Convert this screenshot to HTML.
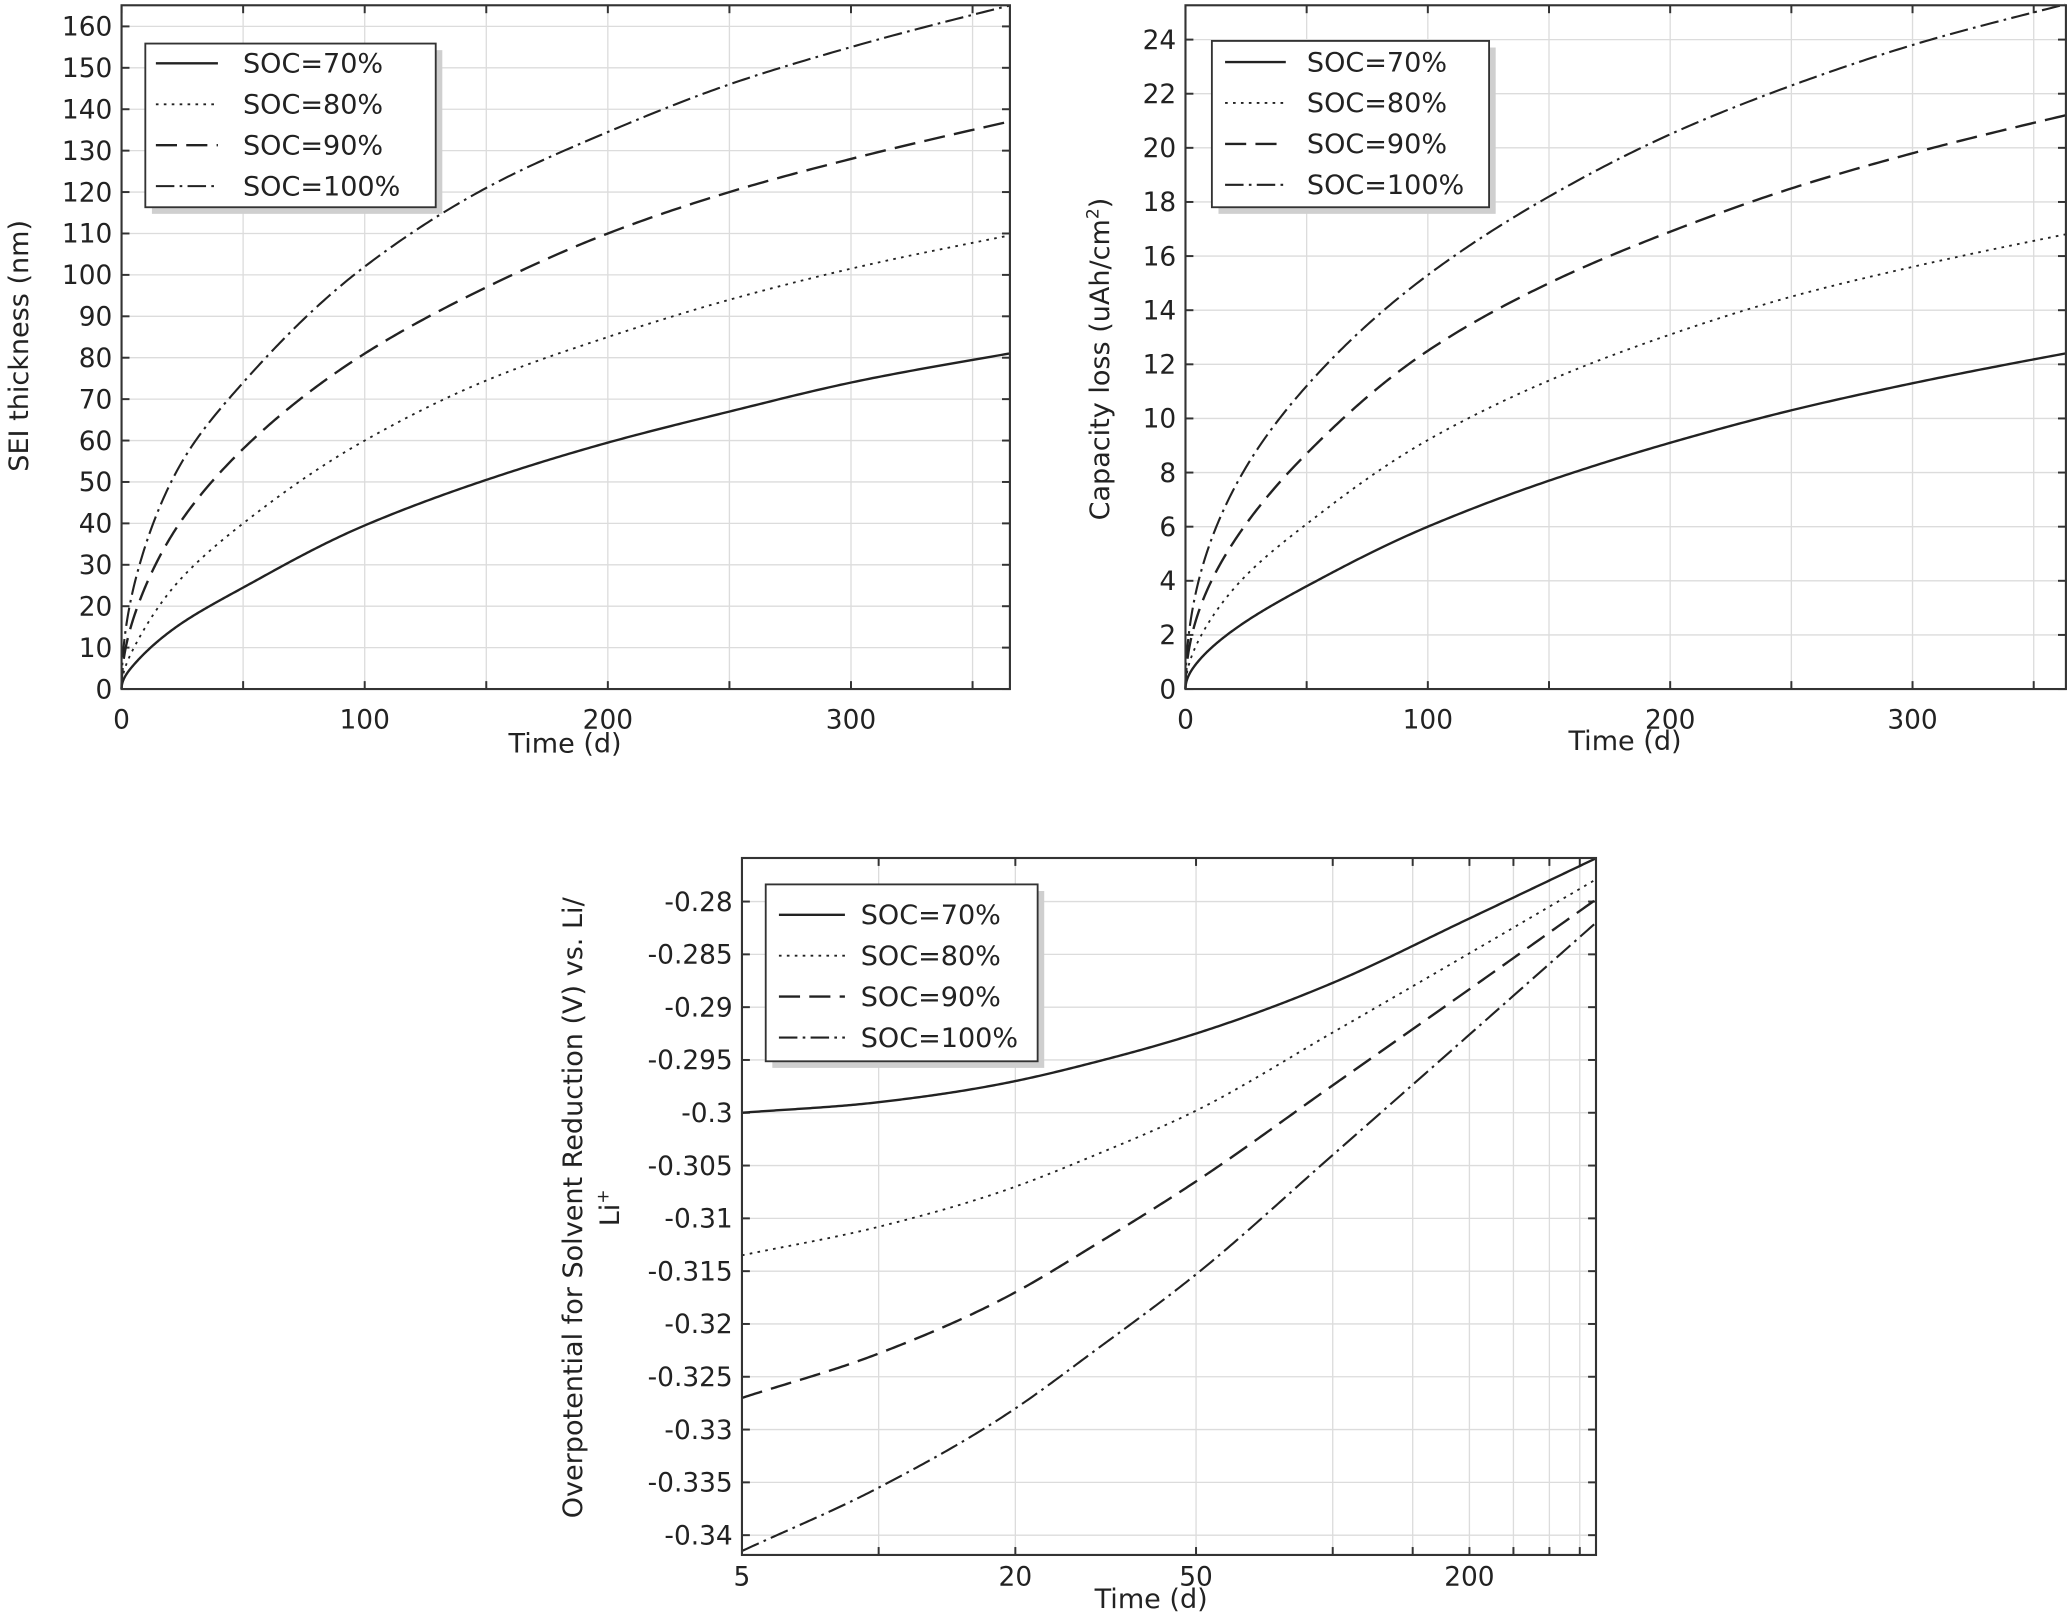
<!DOCTYPE html>
<html><head><meta charset="utf-8"><style>
html,body{margin:0;padding:0;background:#fff;}
svg{display:block}
text{font-family:"DejaVu Sans","Liberation Sans",sans-serif;fill:#222;}
</style></head><body>
<svg id="s" xmlns="http://www.w3.org/2000/svg" width="2070" height="1617" viewBox="0 0 1568 1225">
<rect width="1568" height="1225" fill="#fff"/>
<g id="g"></g>
</svg>
<script>
var NS="http://www.w3.org/2000/svg",G=document.getElementById('g');
function el(t,a,txt){var e=document.createElementNS(NS,t);for(var k in a)e.setAttribute(k,a[k]);if(txt!==undefined)e.textContent=txt;G.appendChild(e);return e;}
function interp(pts,x){for(var i=0;i<pts.length-1;i++){if(x<=pts[i+1][0]){var a=pts[i],b=pts[i+1];
 var m=function(j){if(j<=0)return (pts[1][1]-pts[0][1])/(pts[1][0]-pts[0][0]);if(j>=pts.length-1)return (pts[j][1]-pts[j-1][1])/(pts[j][0]-pts[j-1][0]);
   var h0=pts[j][0]-pts[j-1][0],h1=pts[j+1][0]-pts[j][0];var s0=(pts[j][1]-pts[j-1][1])/h0,s1=(pts[j+1][1]-pts[j][1])/h1;return (s0*h1+s1*h0)/(h0+h1);};
 var h=b[0]-a[0],t=(x-a[0])/h,t2=t*t,t3=t2*t;
 return (2*t3-3*t2+1)*a[1]+(t3-2*t2+t)*h*m(i)+(-2*t3+3*t2)*b[1]+(t3-t2)*h*m(i+1);}}return pts[pts.length-1][1];}
var styles=[{w:1.8,d:""},{w:1.4,d:"2,4"},{w:1.8,d:"16,7"},{w:1.6,d:"14,4,2,4"}];
function plot(o){
 var X=o.X,Y=o.Y;
 o.xgrid.forEach(function(v){var x=X(v);el('line',{x1:x,x2:x,y1:o.t,y2:o.b,stroke:'#dcdcdc','stroke-width':1});
   el('line',{x1:x,x2:x,y1:o.b,y2:o.b-6,stroke:'#333','stroke-width':1.5});el('line',{x1:x,x2:x,y1:o.t,y2:o.t+6,stroke:'#333','stroke-width':1.5});});
 o.yt.forEach(function(v){var y=Y(v);el('line',{x1:o.l,x2:o.r,y1:y,y2:y,stroke:'#dcdcdc','stroke-width':1});
   el('line',{x1:o.l,x2:o.l+6,y1:y,y2:y,stroke:'#333','stroke-width':1.5});el('line',{x1:o.r,x2:o.r-6,y1:y,y2:y,stroke:'#333','stroke-width':1.5});
   el('text',{x:o.l-7,y:y+7,'text-anchor':'end','font-size':20},o.yf(v));});
 o.xl.forEach(function(v){el('text',{x:X(v),y:o.b+o.xo,'text-anchor':'middle','font-size':20},String(v));});
 o.data.forEach(function(pts,i){var tp=pts.map(function(p){return [o.f(p[0]),p[1]];});var d='';var N=400;for(var k=0;k<=N;k++){var u=o.ts(k/N);var x=X(u),y=Y(interp(tp,o.f(u)));d+=(k?'L':'M')+x.toFixed(2)+','+y.toFixed(2);}
   el('path',{d:d,fill:'none',stroke:'#222','stroke-width':styles[i].w,'stroke-dasharray':styles[i].d});});
 el('rect',{x:o.l,y:o.t,width:o.r-o.l,height:o.b-o.t,fill:'none',stroke:'#333','stroke-width':1.6});
 var L=o.leg;el('rect',{x:L.x+5,y:L.y+5,width:L.w,height:L.h,fill:'#cfcfcf'});
 el('rect',{x:L.x,y:L.y,width:L.w,height:L.h,fill:'#fff',stroke:'#333','stroke-width':1.4});
 ['SOC=70%','SOC=80%','SOC=90%','SOC=100%'].forEach(function(s,i){var y=L.y+L.y0+i*L.dy;
   el('line',{x1:L.x+L.l0,x2:L.x+L.l1,y1:y,y2:y,stroke:'#222','stroke-width':styles[i].w,'stroke-dasharray':styles[i].d});
   el('text',{x:L.x+L.tx,y:y+7,'font-size':20.5},s);});
}
var sqf=function(t){return Math.sqrt(t);};
(function(){var l=92,r=765,t=4,b=522;
 var X=function(v){return l+v*1.842},Y=function(v){return b-v*3.1375};
 var yt=[];for(var v=0;v<=160;v+=10)yt.push(v);var xg=[];for(var v=0;v<=350;v+=50)xg.push(v);
 plot({l:l,r:r,t:t,b:b,X:X,Y:Y,yt:yt,yf:String,xgrid:xg,xl:[0,100,200,300],xo:30,f:sqf,ts:function(f){return 365*f*f;},
 data:[
  [[0,0],[6,6.5],[25,16],[50,24.5],[100,39.5],[150,50.5],[200,59.5],[250,67],[300,74],[365,81]],
  [[0,0],[6,11],[25,27],[50,40],[100,60],[150,74.5],[200,85],[250,94],[300,101.5],[365,109.5]],
  [[0,0],[6,19],[25,41],[50,58],[100,81],[150,97],[200,110],[250,120],[300,128],[365,137]],
  [[0,0],[6,27],[25,55],[50,74],[100,102],[150,121],[200,134.5],[250,146],[300,155],[365,165]]],
 leg:{x:110,y:33,w:220,h:124,y0:15,dy:31,l0:8,l1:55,tx:74}});
 el('text',{x:428,y:570,'text-anchor':'middle','font-size':20.5},'Time (d)');
 el('text',{x:0,y:0,'text-anchor':'middle','font-size':20.5,transform:'translate(21,262) rotate(-90)'},'SEI thickness (nm)');
})();
(function(){var l=898,r=1565,t=4,b=522;
 var X=function(v){return l+v*1.836},Y=function(v){return b-v*20.5};
 var yt=[];for(var v=0;v<=24;v+=2)yt.push(v);var xg=[];for(var v=0;v<=350;v+=50)xg.push(v);
 plot({l:l,r:r,t:t,b:b,X:X,Y:Y,yt:yt,yf:String,xgrid:xg,xl:[0,100,200,300],xo:30,f:sqf,ts:function(f){return 363*f*f;},
 data:[
  [[0,0],[6,1.1],[25,2.5],[50,3.8],[100,6],[150,7.7],[200,9.1],[250,10.3],[300,11.3],[363,12.4]],
  [[0,0],[6,1.9],[25,4.2],[50,6.1],[100,9.2],[150,11.4],[200,13.1],[250,14.5],[300,15.6],[363,16.8]],
  [[0,0],[6,3],[25,6.1],[50,8.7],[100,12.5],[150,15],[200,16.9],[250,18.5],[300,19.8],[363,21.2]],
  [[0,0],[6,4.2],[25,8.2],[50,11.2],[100,15.3],[150,18.2],[200,20.5],[250,22.3],[300,23.8],[363,25.3]]],
 leg:{x:918,y:31,w:210,h:126,y0:16,dy:31,l0:10,l1:56,tx:72}});
 el('text',{x:1231,y:568,'text-anchor':'middle','font-size':20.5},'Time (d)');
 var tx=el('text',{x:0,y:0,'text-anchor':'middle','font-size':20.5,transform:'translate(840,272) rotate(-90)'});
 tx.innerHTML='Capacity loss (uAh/cm<tspan dy="-8" font-size="13">2</tspan><tspan dy="8">)</tspan>';
})();
(function(){var l=562,r=1209,t=650,b=1178;
 var X=function(v){return l+Math.log10(v/5)*344},Y=function(v){return 683-(v+0.28)*8000};
 var yt=[];for(var k=0;k<=12;k++)yt.push(-0.28-0.005*k);
 plot({l:l,r:r,t:t,b:b,X:X,Y:Y,yt:yt,yf:function(v){return (Math.round(v*1000)/1000).toString();},
 xgrid:[10,20,50,100,150,200,250,300,350],xl:[5,20,50,200],xo:23,f:function(t){return Math.log(t);},ts:function(f){return 5*Math.pow(380/5,f);},
 data:[
  [[5,-0.300],[10,-0.299],[20,-0.297],[30,-0.2952],[50,-0.2925],[100,-0.2877],[200,-0.2816],[380,-0.2759]],
  [[5,-0.3135],[10,-0.3108],[20,-0.307],[30,-0.304],[50,-0.2998],[100,-0.2924],[200,-0.2849],[380,-0.2779]],
  [[5,-0.327],[10,-0.3228],[20,-0.317],[30,-0.3125],[50,-0.3065],[100,-0.2974],[200,-0.2883],[380,-0.2798]],
  [[5,-0.3415],[10,-0.3355],[20,-0.328],[30,-0.3225],[50,-0.3153],[100,-0.304],[200,-0.2926],[380,-0.282]]],
 leg:{x:580,y:670,w:206,h:134,y0:23,dy:31,l0:10,l1:60,tx:72}});
 el('text',{x:872,y:1218,'text-anchor':'middle','font-size':20.5},'Time (d)');
 el('text',{x:0,y:0,'text-anchor':'middle','font-size':20.5,transform:'translate(441,915) rotate(-90)'},'Overpotential for Solvent Reduction (V) vs. Li/');
 var tx=el('text',{x:0,y:0,'text-anchor':'middle','font-size':20.5,transform:'translate(469,915) rotate(-90)'});
 tx.innerHTML='Li<tspan dy="-8" font-size="13">+</tspan>';
})();
</script>
</body></html>
